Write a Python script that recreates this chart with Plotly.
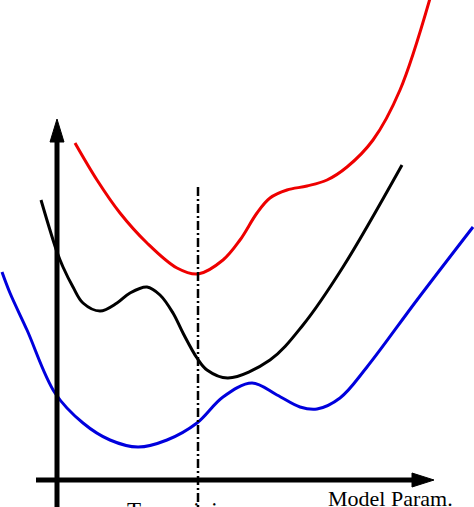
import plotly.graph_objects as go

# Schematic loss curves, axis origin at (0, 0)
red_x = [18, 40, 63, 90, 120, 141, 166, 183, 200, 213, 230, 250, 270, 290, 316, 343, 374]
red_y = [337, 300, 267, 237, 212, 206, 220, 240, 267, 282, 290, 294, 300, 313, 340, 390, 485]

black_x = [-16, 0, 6, 16, 26, 43, 60, 73, 90, 103, 116, 126, 140, 150, 171, 213, 246, 286, 345]
black_y = [280, 228, 213, 193, 177, 169, 177, 187, 193, 185, 167, 147, 122, 110, 102, 120, 155, 213, 315]

blue_x = [-55, -47, -30, -2, 26, 53, 81, 110, 140, 166, 195, 220, 243, 260, 283, 310, 360, 416]
blue_y = [208, 187, 150, 87, 57, 40, 33, 40, 57, 83, 97, 85, 73, 71, 82, 113, 180, 253]

true_min_x = 141
x_label = "Model Param."
min_label = "True minimum"

fig = go.Figure()

for xs, ys, color in [
    (red_x, red_y, "#ee0000"),
    (black_x, black_y, "#000000"),
    (blue_x, blue_y, "#0000dd"),
]:
    fig.add_trace(go.Scatter(
        x=xs, y=ys,
        mode="lines",
        line=dict(color=color, width=3, shape="spline", smoothing=1.0),
        hoverinfo="skip",
    ))

# True minimum marker
fig.add_trace(go.Scatter(
    x=[true_min_x, true_min_x], y=[293, -30],
    mode="lines",
    line=dict(color="black", width=2.5, dash="9px,3px,2px,3px"),
    hoverinfo="skip",
))

# Axes with arrowheads
fig.add_shape(type="line", x0=0, y0=-30, x1=0, y1=340, line=dict(color="black", width=5))
fig.add_shape(type="path", path="M -7 338 L 7 338 L 0 361 Z",
              fillcolor="black", line=dict(color="black", width=1))
fig.add_shape(type="line", x0=-21, y0=0, x1=357, y1=0, line=dict(color="black", width=5))
fig.add_shape(type="path", path="M 355 -7 L 355 7 L 377 0 Z",
              fillcolor="black", line=dict(color="black", width=1))

fig.add_annotation(
    x=398, y=-4, xanchor="right", yanchor="top",
    text=x_label, showarrow=False,
    font=dict(family="Liberation Serif", size=22, color="black"),
)
fig.add_annotation(
    x=68, y=-16, xanchor="left", yanchor="top",
    text=min_label, showarrow=False,
    font=dict(family="Liberation Serif", size=23, color="black"),
)

# ranges chosen so that 1 unit = 1 px across the full window
fig.update_layout(
    width=474, height=507,
    autosize=False,
    margin=dict(l=0, r=0, t=0, b=0),
    paper_bgcolor="white",
    plot_bgcolor="white",
    showlegend=False,
    xaxis=dict(range=[-57, 417], visible=False, fixedrange=True),
    yaxis=dict(range=[-27, 480], visible=False, fixedrange=True),
)

# drop the browser's default body margin so the figure fills the window
fig.write_html(
    "out.html",
    config={"displayModeBar": False},
    post_script="document.body.style.margin = '0px';",
)
